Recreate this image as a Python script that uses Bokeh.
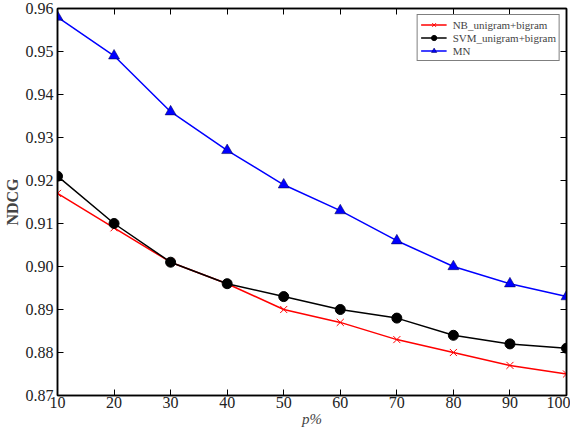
from bokeh.plotting import figure
from bokeh.models import Range1d, LinearAxis, FixedTicker, Legend, LegendItem
from bokeh.embed import file_html
from bokeh.resources import INLINE

p_pct = [10, 20, 30, 40, 50, 60, 70, 80, 90, 100]
nb = [0.917, 0.909, 0.901, 0.896, 0.890, 0.887, 0.883, 0.880, 0.877, 0.875]
svm = [0.921, 0.910, 0.901, 0.896, 0.893, 0.890, 0.888, 0.884, 0.882, 0.881]
mn = [0.958, 0.949, 0.936, 0.927, 0.919, 0.913, 0.906, 0.900, 0.896, 0.893]
series_names = ["NB_unigram+bigram", "SVM_unigram+bigram", "MN"]
x_ticks = [10, 20, 30, 40, 50, 60, 70, 80, 90, 100]
y_ticks = [0.87, 0.88, 0.89, 0.90, 0.91, 0.92, 0.93, 0.94, 0.95, 0.96]

FONT = "Liberation Serif"

p = figure(width=570, height=429, output_backend="svg", toolbar_location=None,
           x_range=Range1d(10, 100), y_range=Range1d(0.87, 0.96),
           min_border_left=4, min_border_right=4, min_border_top=8, min_border_bottom=0)
p.grid.visible = False
p.background_fill_color = "white"
p.border_fill_color = "white"
p.outline_line_color = "black"
p.outline_line_width = 1.5

def style_axis(ax, ticks, show_labels=True):
    ax.ticker = FixedTicker(ticks=ticks)
    ax.major_tick_in = 6
    ax.major_tick_out = 0
    ax.minor_tick_in = 0
    ax.minor_tick_out = 0
    ax.axis_line_color = "black"
    ax.axis_line_width = 1.5
    ax.major_tick_line_width = 1
    ax.major_label_text_font = FONT
    ax.major_label_text_font_size = "16px"
    ax.major_label_text_color = "#222222"
    if not show_labels:
        ax.major_label_overrides = {t: "" for t in ticks}
        ax.major_label_standoff = 0

style_axis(p.xaxis[0], x_ticks)
style_axis(p.yaxis[0], y_ticks)
p.yaxis[0].major_label_overrides = {t: "%.2f" % t for t in y_ticks}
p.xaxis[0].major_label_standoff = 1
p.yaxis[0].major_label_standoff = 4

p.xaxis[0].axis_label = "p%"
p.xaxis[0].axis_label_text_font = FONT
p.xaxis[0].axis_label_text_font_style = "italic"
p.xaxis[0].axis_label_text_font_size = "15px"
p.xaxis[0].axis_label_standoff = 0
p.yaxis[0].axis_label = "NDCG"
p.yaxis[0].axis_label_text_font = FONT
p.yaxis[0].axis_label_text_font_style = "bold"
p.yaxis[0].axis_label_text_font_size = "16px"
p.yaxis[0].axis_label_standoff = 2

top_ax = LinearAxis()
style_axis(top_ax, x_ticks, show_labels=False)
p.add_layout(top_ax, "above")
right_ax = LinearAxis()
style_axis(right_ax, y_ticks, show_labels=False)
p.add_layout(right_ax, "right")

l1 = p.line(p_pct, nb, line_color="#ff0000", line_width=1.5)
m1 = p.scatter(p_pct, nb, marker="x", size=10, line_color="#ff0000", line_width=1)
l2 = p.line(p_pct, svm, line_color="black", line_width=1.5)
m2 = p.scatter(p_pct, svm, marker="circle", size=10, fill_color="black", line_color="black")
l3 = p.line(p_pct, mn, line_color="#0000ff", line_width=1.5)
m3 = p.scatter(p_pct, mn, marker="triangle", size=11, fill_color="#0000ff", line_color="#000044", line_width=0.5)

legend = Legend(items=[
    LegendItem(label=series_names[0], renderers=[l1, m1]),
    LegendItem(label=series_names[1], renderers=[l2, m2]),
    LegendItem(label=series_names[2], renderers=[l3, m3]),
], location="top_right")
legend.label_text_font = FONT
legend.label_text_font_size = "11px"
legend.border_line_color = "black"
legend.border_line_width = 1
legend.glyph_width = 26
legend.glyph_height = 13
legend.label_height = 13
legend.spacing = 0
legend.padding = 3
legend.margin = 6
legend.label_standoff = 6
legend.background_fill_alpha = 1.0
p.add_layout(legend)

open("out.html", "w").write(file_html(p, INLINE))
